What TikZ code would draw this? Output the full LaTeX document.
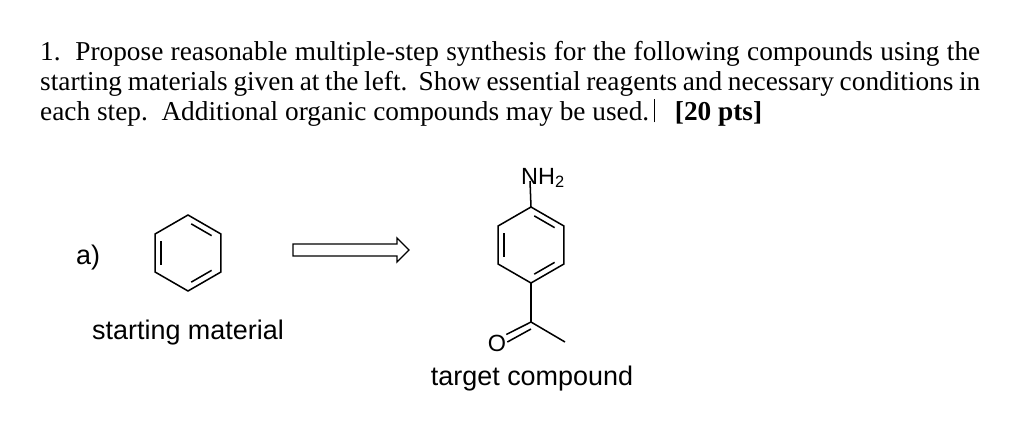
\documentclass[tikz,border=0pt]{standalone}
\usepackage{fontspec}
\setmainfont{Liberation Serif}
\setsansfont{Liberation Sans}
\usetikzlibrary{calc}
\begin{document}
\begin{tikzpicture}[x=0.03cm,y=-0.03cm,
  bond/.style={line width=1.3pt},
  title/.style={anchor=base west,inner sep=0,font=\fontsize{23.3pt}{26pt}\selectfont},
  lab/.style={inner sep=0,font=\sffamily\fontsize{23pt}{26pt}\selectfont}]
\useasboundingbox (0,0) rectangle (1024,444);
\node[title] (l1) at (40,60) {\hbox to 28.2cm{1.\ \ Propose reasonable multiple-step synthesis for the following compounds using the}};
\node[title] (l2) at (40,90) {\hbox to 28.2cm{starting materials given at the left.\ \ Show essential reagents and necessary conditions in}};
\node[title] (l3) at (40,120) {each step.\ \ Additional organic compounds may be used.\,\rule[-2pt]{0.6pt}{20pt}\ \ \ \textbf{[20 pts]}};
\node[lab] (a) at (88,258) {a)};
\node[lab] (sm) at (188,333) {starting material};
\node[lab] (tc) at (532,379) {target compound};
\foreach \cx/\cy/\p in {188/253/b,531/245/t}{
  \coordinate (\p c) at (\cx,\cy);
  \foreach \i in {0,...,5}{\coordinate (\p\i) at ($(\p c)+(90+60*\i:38)$);
    \coordinate (\p i\i) at ($(\p c)+(90+60*\i:31)$);}
  \draw[bond] (\p0)--(\p1)--(\p2)--(\p3)--(\p4)--(\p5)--cycle;
  \draw[bond] ($(\p i1)!0.12!(\p i2)$)--($(\p i1)!0.88!(\p i2)$);
  \draw[bond] ($(\p i3)!0.12!(\p i4)$)--($(\p i3)!0.88!(\p i4)$);
  \draw[bond] ($(\p i5)!0.12!(\p i0)$)--($(\p i5)!0.88!(\p i0)$);
}
\node[lab,font=\sffamily\fontsize{20pt}{22pt}\selectfont,anchor=base west] (nh2) at (521,184) {NH\textsubscript{2}};
\coordinate (n) at (530,181);
\draw[bond] (t3)--(n);
\coordinate (cc) at (531,322);
\coordinate (me) at (565,342);
\node[lab,font=\sffamily\fontsize{20pt}{22pt}\selectfont] (o) at (497,343) {O};
\draw[bond] (t0)--(cc)--(me);
\draw[bond] (cc)--(o.north east);
\draw[bond] ($(cc)+(0,7)$)--($(o.east)+(1,-1)$);
\draw[line width=1.1pt] (293,244)--(397,244)--(397,238)--(409,250)--(397,262)--(397,256)--(293,256)--cycle;
\end{tikzpicture}
\end{document}
